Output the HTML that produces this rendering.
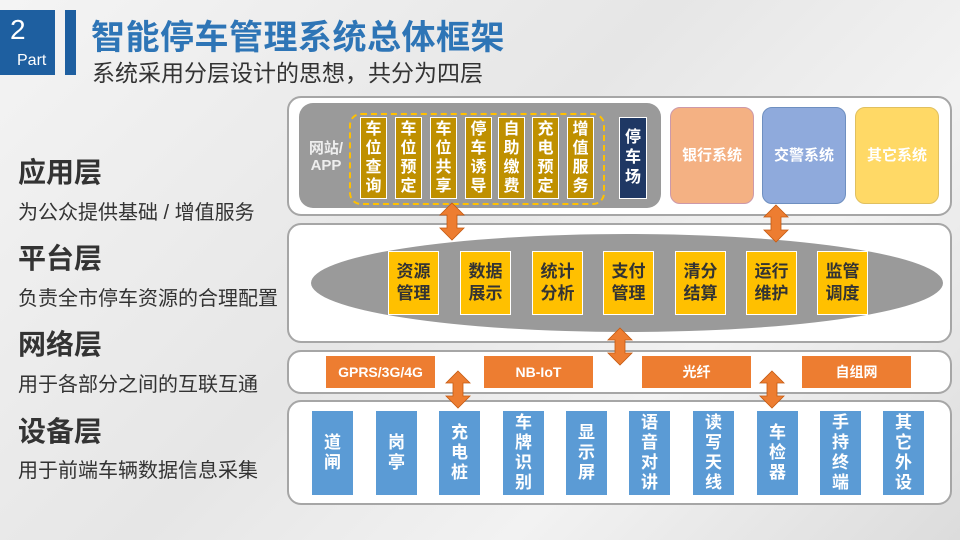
<!DOCTYPE html>
<html><head><meta charset="utf-8"><style>
*{margin:0;padding:0;box-sizing:border-box}
body{width:960px;height:540px;overflow:hidden;position:relative;font-family:"Liberation Sans","Noto Sans CJK SC",sans-serif;background:linear-gradient(135deg,#f4f4f4 0%,#e6e6e6 45%,#f2f2f2 70%,#dcdcdc 100%)}
.a{position:absolute}
.panel{position:absolute;background:#fff;border:2px solid #a6a6a6;border-radius:14px}
.v{position:absolute;display:flex;align-items:center;justify-content:center;text-align:center;font-weight:bold;line-height:1.15}
.gold{background:#bf9000;color:#fff;font-size:16px;line-height:19px;width:27px;top:117px;height:82px;border:1px solid #fff}
.yel{background:#ffc000;color:#333;font-size:17px;line-height:22px;width:51px;top:251px;height:64px;border:1px solid #fff}
.org{background:#ed7d31;color:#fff;font-size:14px;top:356px;height:32px}
.blu{background:#5b9bd5;color:#fff;font-size:17px;line-height:20px;width:41px;top:411px;height:84px}
.lt{position:absolute;left:18px;font-size:28px;font-weight:bold;color:#333}
.ls{position:absolute;left:18px;font-size:20px;color:#333}
</style></head><body>
<div class="a" style="left:0;top:10px;width:55px;height:65px;background:#1e5fa0"></div>
<div class="a" style="left:10px;top:14px;color:#fff;font-size:28px">2</div>
<div class="a" style="left:17px;top:52px;color:#fff;font-size:16px">Part</div>
<div class="a" style="left:65px;top:10px;width:11px;height:65px;background:#1e5fa0"></div>
<div class="a" style="left:91px;top:10px;color:#2e75b6;font-size:34px;font-weight:bold;letter-spacing:0.5px">智能停车管理系统总体框架</div>
<div class="a" style="left:92px;top:54px;color:#333;font-size:23px">系统采用分层设计的思想，共分为四层</div>

<div class="lt" style="top:151px">应用层</div>
<div class="ls" style="top:196px">为公众提供基础 / 增值服务</div>
<div class="lt" style="top:237px">平台层</div>
<div class="ls" style="top:282px">负责全市停车资源的合理配置</div>
<div class="lt" style="top:323px">网络层</div>
<div class="ls" style="top:368px">用于各部分之间的互联互通</div>
<div class="lt" style="top:410px">设备层</div>
<div class="ls" style="top:454px">用于前端车辆数据信息采集</div>

<div class="panel" style="left:287px;top:96px;width:665px;height:120px"></div>
<div class="a" style="left:299px;top:103px;width:362px;height:105px;background:#9a9a9a;border-radius:14px"></div>
<div class="a" style="left:349px;top:113px;width:256px;height:92px;border:2px dashed #ffc000;border-radius:12px"></div>
<div class="v" style="left:303px;top:140px;width:46px;color:#eee;font-size:15px">网站/<br>APP</div>
<div class="v gold" style="left:360px">车<br>位<br>查<br>询</div>
<div class="v gold" style="left:395px">车<br>位<br>预<br>定</div>
<div class="v gold" style="left:430px">车<br>位<br>共<br>享</div>
<div class="v gold" style="left:465px">停<br>车<br>诱<br>导</div>
<div class="v gold" style="left:498px">自<br>助<br>缴<br>费</div>
<div class="v gold" style="left:532px">充<br>电<br>预<br>定</div>
<div class="v gold" style="left:567px">增<br>值<br>服<br>务</div>
<div class="v" style="left:619px;top:117px;width:28px;height:82px;background:#1f3864;color:#fff;font-size:16px;line-height:20px;border:1px solid #fff">停<br>车<br>场</div>
<div class="v" style="left:670px;top:107px;width:84px;height:97px;background:#f4b183;color:#fff;font-size:15px;border:1px solid #c9a;border-radius:10px">银行系统</div>
<div class="v" style="left:762px;top:107px;width:84px;height:97px;background:#8faadc;color:#fff;font-size:15px;border:1px solid #6e8fc0;border-radius:10px">交警系统</div>
<div class="v" style="left:855px;top:107px;width:84px;height:97px;background:#ffd966;color:#fff;font-size:15px;border:1px solid #e0c060;border-radius:10px">其它系统</div>

<div class="panel" style="left:287px;top:223px;width:665px;height:120px"></div>
<div class="a" style="left:311px;top:234px;width:632px;height:98px;background:#9a9a9a;border-radius:50%"></div>
<div class="v yel" style="left:388px">资源<br>管理</div>
<div class="v yel" style="left:460px">数据<br>展示</div>
<div class="v yel" style="left:532px">统计<br>分析</div>
<div class="v yel" style="left:603px">支付<br>管理</div>
<div class="v yel" style="left:675px">清分<br>结算</div>
<div class="v yel" style="left:746px">运行<br>维护</div>
<div class="v yel" style="left:817px">监管<br>调度</div>

<div class="panel" style="left:287px;top:350px;width:665px;height:44px"></div>
<div class="v org" style="left:326px;width:109px">GPRS/3G/4G</div>
<div class="v org" style="left:484px;width:109px">NB-IoT</div>
<div class="v org" style="left:642px;width:109px">光纤</div>
<div class="v org" style="left:802px;width:109px">自组网</div>

<div class="panel" style="left:287px;top:400px;width:665px;height:105px"></div>
<div class="v blu" style="left:312px">道<br>闸</div>
<div class="v blu" style="left:376px">岗<br>亭</div>
<div class="v blu" style="left:439px">充<br>电<br>桩</div>
<div class="v blu" style="left:503px">车<br>牌<br>识<br>别</div>
<div class="v blu" style="left:566px">显<br>示<br>屏</div>
<div class="v blu" style="left:629px">语<br>音<br>对<br>讲</div>
<div class="v blu" style="left:693px">读<br>写<br>天<br>线</div>
<div class="v blu" style="left:757px">车<br>检<br>器</div>
<div class="v blu" style="left:820px">手<br>持<br>终<br>端</div>
<div class="v blu" style="left:883px">其<br>它<br>外<br>设</div>

<svg class="a" style="left:0;top:0" width="960" height="540">
<g fill="#ed7d31" stroke="#c55a11" stroke-width="0.8">
<path d="M452 203 L464 215 L457 215 L457 228 L464 228 L452 240 L440 228 L447 228 L447 215 L440 215 Z"/>
<path d="M776 205 L788 217 L781 217 L781 230 L788 230 L776 242 L764 230 L771 230 L771 217 L764 217 Z"/>
<path d="M620 328 L632 340 L625 340 L625 353 L632 353 L620 365 L608 353 L615 353 L615 340 L608 340 Z"/>
<path d="M458 371 L470 383 L463 383 L463 396 L470 396 L458 408 L446 396 L453 396 L453 383 L446 383 Z"/>
<path d="M772 371 L784 383 L777 383 L777 396 L784 396 L772 408 L760 396 L767 396 L767 383 L760 383 Z"/>
</g>
</svg>
</body></html>
